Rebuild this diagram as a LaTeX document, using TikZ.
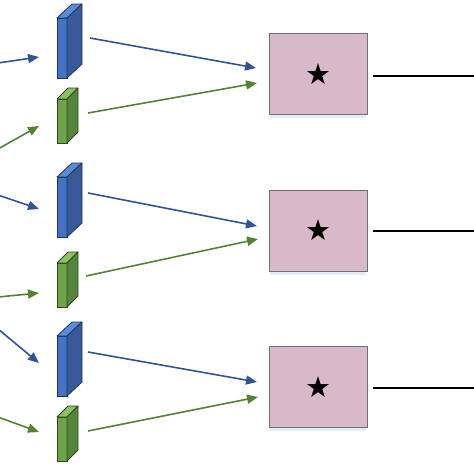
\documentclass[tikz,border=0pt]{standalone}
\usepackage{fontspec}
\newfontfamily\symfont{DejaVu Sans}
\usetikzlibrary{arrows.meta,calc}
\definecolor{bfrontc}{HTML}{4472C4}
\definecolor{bsidec}{HTML}{385A9A}
\definecolor{btopc}{HTML}{5B8AD6}
\definecolor{bedgec}{HTML}{1F3560}
\definecolor{gfrontc}{HTML}{6FA34A}
\definecolor{gsidec}{HTML}{55853A}
\definecolor{gtopc}{HTML}{8CC263}
\definecolor{gedgec}{HTML}{2E4A1E}
\definecolor{barrowc}{HTML}{2F5597}
\definecolor{garrowc}{HTML}{548235}
\definecolor{boxfillc}{HTML}{D8B9CA}
\definecolor{boxedgec}{HTML}{707070}
\definecolor{shadowc}{HTML}{E2EDF8}
\newcommand\starsym{{\symfont\fontsize{29}{29}\selectfont ★}}
\begin{document}
\begin{tikzpicture}[x=1pt,y=-1pt,
  bfront/.style={draw=bedgec,fill=bfrontc,line width=0.8pt,minimum width=10pt,minimum height=60pt,inner sep=0pt,outer sep=0pt},
  gfront/.style={draw=gedgec,fill=gfrontc,line width=0.8pt,minimum width=10pt,minimum height=44pt,inner sep=0pt,outer sep=0pt},
  mbox/.style={draw=boxedgec,fill=boxfillc,line width=0.9pt,minimum width=98pt,minimum height=81pt,inner sep=0pt,outer sep=0pt},
  barrow/.style={draw=barrowc,line width=1.6pt,-{Triangle[length=11pt,width=9pt]}},
  garrow/.style={draw=garrowc,line width=1.6pt,-{Triangle[length=11pt,width=9pt]}},
  outline/.style={draw=black,line width=2.2pt}
]
\useasboundingbox (0,0) rectangle (474,474);
% boxes with faint shadow
\foreach \n/\y in {1/74,2/230.5,3/387}{
  \fill[shadowc] (270,\y+40) rectangle (366,\y+44);
}
\node[mbox] (m1) at (318,74) {\starsym};
\node[mbox] (m2) at (318,230.5) {\starsym};
\node[mbox] (m3) at (318,387) {\starsym};

% blocks
\node[bfront] (b1) at (62,48) {};
\node[bfront] (b2) at (62,207) {};
\node[bfront] (b3) at (62,366) {};
\node[gfront] (g1) at (62,121) {};
\node[gfront] (g2) at (62,285) {};
\node[gfront] (g3) at (62,439) {};
\foreach \b in {b1,b2,b3}{
  \filldraw[fill=btopc,draw=bedgec,line width=0.8pt,line join=round] (\b.north west) -- ++(15,-14) -- ++(10,0) -- (\b.north east) -- cycle;
  \filldraw[fill=bsidec,draw=bedgec,line width=0.8pt,line join=round] (\b.north east) -- ++(15,-14) -- ++(0,60) -- (\b.south east) -- cycle;
}
\foreach \g in {g1,g2,g3}{
  \filldraw[fill=gtopc,draw=gedgec,line width=0.8pt,line join=round] (\g.north west) -- ++(11,-11) -- ++(10,0) -- (\g.north east) -- cycle;
  \filldraw[fill=gsidec,draw=gedgec,line width=0.8pt,line join=round] (\g.north east) -- ++(11,-11) -- ++(0,44) -- (\g.south east) -- cycle;
}

% incoming free ends
\coordinate (ib1) at (-2,63);
\coordinate (ig1) at (-2,149);
\coordinate (ib2) at (-2,195);
\coordinate (ig2) at (-2,297);
\coordinate (ib3) at (-2,329);
\coordinate (ig3) at (-2,417);
\draw[barrow] (ib1) -- ($(b1.west)+(-18,9)$);
\draw[garrow] (ig1) -- ($(g1.west)+(-18,5)$);
\draw[barrow] (ib2) -- ($(b2.west)+(-18,2)$);
\draw[garrow] (ig2) -- ($(g2.west)+(-18,8)$);
\draw[barrow] (ib3) -- ($(b3.west)+(-18,-3)$);
\draw[garrow] (ig3) -- ($(g3.west)+(-18,-7)$);

% block to box
\draw[barrow] ($(b1.east)+(23,-10)$) -- ($(m1.west)+(-13,-6)$);
\draw[garrow] ($(g1.east)+(21,-8)$) -- ($(m1.west)+(-12,9)$);
\draw[barrow] ($(b2.east)+(21,-14)$) -- ($(m2.west)+(-12,-4.5)$);
\draw[garrow] ($(g2.east)+(19,-9)$) -- ($(m2.west)+(-11,8.5)$);
\draw[barrow] ($(b3.east)+(21,-14)$) -- ($(m3.west)+(-12,-5)$);
\draw[garrow] ($(g3.east)+(21,-8)$) -- ($(m3.west)+(-11,10)$);

% outputs
\coordinate (o1) at (476,76);
\coordinate (o2) at (476,231);
\coordinate (o3) at (476,388);
\draw[outline] ($(m1.east)+(6,2)$) -- (o1);
\draw[outline] ($(m2.east)+(6,0.5)$) -- (o2);
\draw[outline] ($(m3.east)+(6,1)$) -- (o3);
\end{tikzpicture}
\end{document}
